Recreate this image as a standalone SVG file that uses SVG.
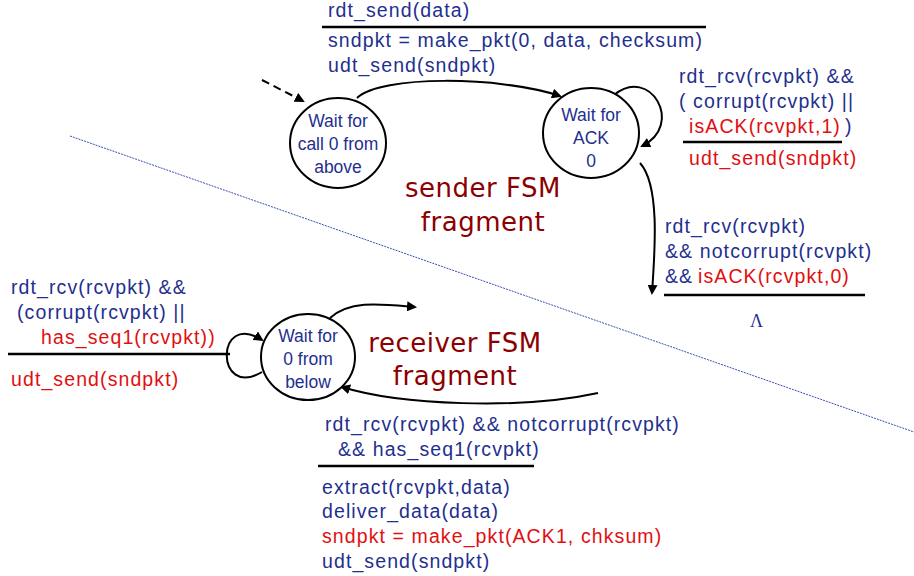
<svg xmlns="http://www.w3.org/2000/svg" width="914" height="576" viewBox="0 0 914 576">
<style>
text{font-family:"Liberation Sans",Arial,sans-serif;font-size:19.5px;letter-spacing:1.1px;fill:#1f2f8f}
.r{fill:#e01010}
.n{font-size:17.5px;letter-spacing:0;text-anchor:middle}
.t{font-family:"DejaVu Sans",sans-serif;font-size:26px;letter-spacing:0.5px;fill:#8b0000;text-anchor:middle}
.st{fill:#fff;stroke:#000;stroke-width:2}
.c{fill:none;stroke:#000;stroke-width:2}
.bar{stroke:#000;stroke-width:2.5}
</style>
<defs><marker id="a" markerWidth="10" markerHeight="10" refX="8" refY="5" orient="auto" markerUnits="userSpaceOnUse"><path d="M0,0 L10,5 L0,10 Z" fill="#000"/></marker></defs>
<line x1="70" y1="136" x2="914" y2="432" stroke="#3a4fb0" stroke-width="1" stroke-dasharray="2,1"/>
<g id="connectors">
<path class="c" d="M262,80 L303,101" stroke-dasharray="8,5" marker-end="url(#a)"/>
<path class="c" d="M357,98 C380,75 500,76 560,96" marker-end="url(#a)"/>
<path class="c" d="M614,95 C650,65 685,125 642,146" marker-end="url(#a)"/>
<path class="c" d="M640,163 C660,185 655,250 652,293" marker-end="url(#a)"/>
<path class="c" d="M330,318 C350,300 380,304 415,307" marker-end="url(#a)"/>
<path class="c" d="M598,393 C520,410 400,405 342,387" marker-end="url(#a)"/>
<path class="c" d="M262,372 C215,400 215,310 262,340" marker-end="url(#a)"/>
</g>
<g id="s0"><ellipse class="st" cx="338" cy="143" rx="48" ry="45"/>
<text class="n" x="338" y="127">Wait for</text><text class="n" x="338" y="150">call 0 from</text><text class="n" x="338" y="173">above</text></g>
<g id="s1"><ellipse class="st" cx="591" cy="133" rx="48" ry="45"/>
<text class="n" x="591" y="121">Wait for</text><text class="n" x="591" y="144">ACK</text><text class="n" x="591" y="167">0</text></g>
<g id="r0"><ellipse class="st" cx="308" cy="357" rx="47" ry="43"/>
<text class="n" x="308" y="342">Wait for</text><text class="n" x="308" y="365">0 from</text><text class="n" x="308" y="388">below</text></g>
<g id="labels">
<text x="328" y="17">rdt_send(data)</text>
<line class="bar" x1="322" y1="27" x2="706" y2="27"/>
<text x="328" y="47">sndpkt = make_pkt(0, data, checksum)</text>
<text x="328" y="72">udt_send(sndpkt)</text>
<text x="679" y="83">rdt_rcv(rcvpkt) &amp;&amp;</text>
<text x="679" y="108">( corrupt(rcvpkt) ||</text>
<text x="689" y="133" class="r">isACK(rcvpkt,1)</text><text x="845" y="133"> )</text>
<line class="bar" x1="683" y1="142" x2="842" y2="142"/>
<text x="689" y="165" class="r">udt_send(sndpkt)</text>
<text x="665" y="233">rdt_rcv(rcvpkt)</text>
<text x="665" y="258">&amp;&amp; notcorrupt(rcvpkt)</text>
<text x="665" y="283">&amp;&amp;</text><text x="698" y="283" class="r">isACK(rcvpkt,0)</text>
<line class="bar" x1="664" y1="295" x2="865" y2="295"/>
<text x="750" y="327" style="font-family:'Liberation Serif',serif;font-size:18px">Λ</text>
<text class="t" x="483" y="197">sender FSM</text>
<text class="t" x="483" y="231">fragment</text>
<text class="t" x="455" y="352">receiver FSM</text>
<text class="t" x="455" y="385">fragment</text>
<text x="11" y="294">rdt_rcv(rcvpkt) &amp;&amp;</text>
<text x="17" y="319">(corrupt(rcvpkt) ||</text>
<text x="41" y="344" class="r">has_seq1(rcvpkt))</text>
<line class="bar" x1="8" y1="354" x2="230" y2="354"/>
<text x="11" y="386" class="r">udt_send(sndpkt)</text>
<text x="325" y="431">rdt_rcv(rcvpkt) &amp;&amp; notcorrupt(rcvpkt)</text>
<text x="338" y="456">&amp;&amp; has_seq1(rcvpkt)</text>
<line class="bar" x1="318" y1="466" x2="534" y2="466"/>
<text x="322" y="494">extract(rcvpkt,data)</text>
<text x="322" y="518">deliver_data(data)</text>
<text x="322" y="543" class="r">sndpkt = make_pkt(ACK1, chksum)</text>
<text x="322" y="568">udt_send(sndpkt)</text>
</g>
</svg>
